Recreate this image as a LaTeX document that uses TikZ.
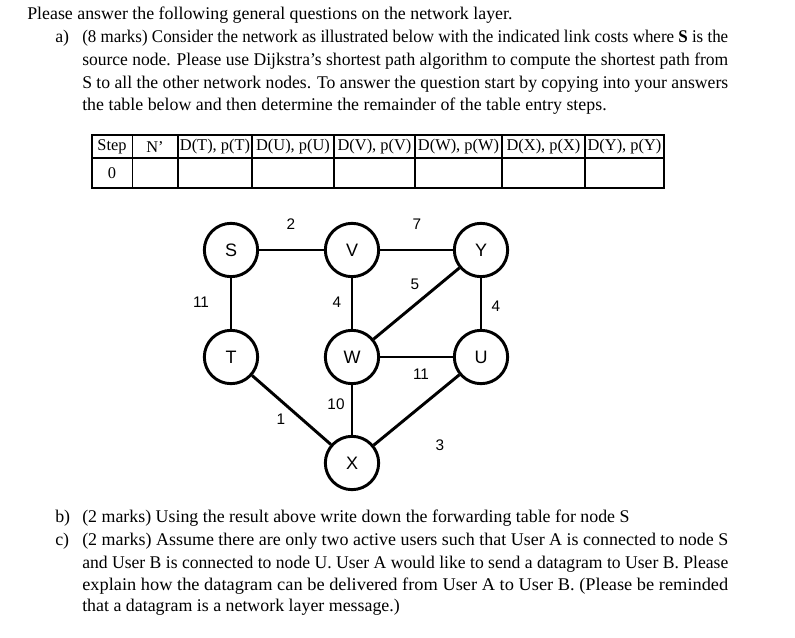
\documentclass[tikz,border=0pt]{standalone}
\usepackage{fontspec}
\usepackage{graphicx}
\setmainfont{Liberation Serif}
\newfontfamily\arial{Liberation Sans}
\begin{document}
\begin{tikzpicture}[x=0.75pt,y=-0.75pt,
  vert/.style={circle,draw,line width=2.2pt,minimum size=40pt,inner sep=0pt,font=\arial\fontsize{13.5}{15}\selectfont},
  edge/.style={line width=2.2pt},
  cost/.style={font=\arial\fontsize{11.5}{13}\selectfont},
  txt/.style={anchor=base west,inner sep=0pt,font=\fontsize{13.4}{15}\selectfont},
  cell/.style={font=\fontsize{12.3}{14}\selectfont,inner sep=0pt}]
\useasboundingbox (0,0) rectangle (795,638);
\newcommand\jline[1]{\resizebox{484.5pt}{\height}{#1}}
\node[txt] (l0) at (27,20) {Please answer the following general questions on the network layer.};
\node[txt] (a) at (55,43) {a)};
\node[txt] (l1) at (82,43) {\jline{(8 marks) Consider the network as illustrated below with the indicated link costs where \textbf{S} is the}};
\node[txt] (l2) at (82,66) {\jline{source node. Please use Dijkstra's shortest path algorithm to compute the shortest path from}};
\node[txt] (l3) at (82,89) {\jline{S to all the other network nodes. To answer the question start by copying into your answers}};
\node[txt] (l4) at (82,111) {the table below and then determine the remainder of the table entry steps.};
% table
\draw[line width=1.2pt] (92,135) rectangle (664,188);
\draw[line width=1.2pt] (92,158) -- (664,158);
\foreach \x in {132.5,178,252,334,415,502,585}{\draw[line width=1.2pt] (\x,135) -- (\x,188);}
\node[cell] (h1) at (112,147) {Step};
\node[cell] (h2) at (155,147) {N'};
\node[cell] (h3) at (215,147) {D(T), p(T)};
\node[cell] (h4) at (293,147) {D(U), p(U)};
\node[cell] (h5) at (374.5,147) {D(V), p(V)};
\node[cell] (h6) at (458.5,147) {D(W), p(W)};
\node[cell] (h7) at (543.5,147) {D(X), p(X)};
\node[cell] (h8) at (624.5,147) {D(Y), p(Y)};
\node[cell] (r0) at (112,173) {0};
% graph
\node[vert] (S) at (231,250) {S};
\node[vert] (V) at (352,250) {V};
\node[vert] (Y) at (481,250) {Y};
\node[vert] (T) at (231,357) {T};
\node[vert] (W) at (352,357) {W};
\node[vert] (U) at (481,357) {U};
\node[vert] (X) at (352,463) {X};
\draw[edge] (S)--(V); \draw[edge] (V)--(Y); \draw[edge] (S)--(T);
\draw[edge] (V)--(W); \draw[edge] (W)--(Y); \draw[edge] (Y)--(U);
\draw[edge] (W)--(U); \draw[edge] (T)--(X); \draw[edge] (W)--(X); \draw[edge] (U)--(X);
\node[cost] (c1) at (291,224) {2};
\node[cost] (c2) at (417,224) {7};
\node[cost] (c3) at (201,302) {11};
\node[cost] (c4) at (337,302) {4};
\node[cost] (c5) at (415,284) {5};
\node[cost] (c6) at (496,306) {4};
\node[cost] (c7) at (421,374) {11};
\node[cost] (c8) at (336,404) {10};
\node[cost] (c9) at (281,419) {1};
\node[cost] (c10) at (440,445) {3};
% bottom
\node[txt] (b) at (55,522) {b)};
\node[txt] (b1) at (82,522) {(2 marks) Using the result above write down the forwarding table for node S};
\node[txt] (c) at (55,545) {c)};
\node[txt] (c1t) at (82,545) {\jline{(2 marks) Assume there are only two active users such that User A is connected to node S}};
\node[txt] (c2t) at (82,568) {\jline{and User B is connected to node U. User A would like to send a datagram to User B. Please}};
\node[txt] (c3t) at (82,590) {\jline{explain how the datagram can be delivered from User A to User B. (Please be reminded}};
\node[txt] (c4t) at (82,611) {that a datagram is a network layer message.)};
\end{tikzpicture}
\end{document}
